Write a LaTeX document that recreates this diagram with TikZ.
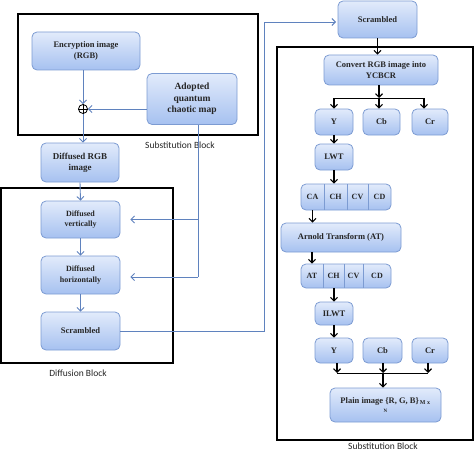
\documentclass[tikz,border=0pt]{standalone}
\usepackage{fontspec}
\setmainfont{Liberation Serif}
\newfontfamily\lblfont{Carlito}
\usetikzlibrary{arrows.meta,calc}
\definecolor{boxtop}{HTML}{E2EBFB}
\definecolor{boxbot}{HTML}{A6C1F0}
\definecolor{boxline}{HTML}{7C9BD2}
\definecolor{bluearr}{HTML}{5F82BE}
\tikzset{
  bx/.style={draw=boxline, line width=0.8pt, rounded corners=5pt, top color=boxtop, bottom color=boxbot,
    align=center, inner sep=1pt, text=black!85, font=\fontsize{8.5}{10.5}\selectfont\bfseries},
  cell/.style={inner sep=0pt, text=black!85, font=\fontsize{8}{10}\selectfont\bfseries},
  frm/.style={draw=black, line width=1.6pt},
  lbl/.style={font=\lblfont\fontsize{9.5}{11}\selectfont, inner sep=0pt, text=black!85},
  barr/.style={draw=bluearr, line width=0.9pt, -{Straight Barb[length=3.5pt,width=7pt]}},
  bln/.style={draw=bluearr, line width=0.9pt},
  karr/.style={draw=black, line width=1.1pt, -{Straight Barb[length=3.5pt,width=7pt]}},
  kln/.style={draw=black, line width=0.9pt},
}
\begin{document}
\begin{tikzpicture}[x=1pt,y=-1pt]
\useasboundingbox (0,0) rectangle (474,452);
% frames
\draw[frm] (18,14) rectangle (258,135);
\draw[frm] (1,188) rectangle (173,363);
\draw[frm] (277,47) rectangle (473,440);
\node[lbl] (lab1) at (180,145) {Substitution Block};
\node[lbl] (lab2) at (78,373) {Diffusion Block};
\node[lbl] (lab3) at (383,446) {Substitution Block};
% left nodes
\node[bx, minimum width=108pt, minimum height=38pt] (enc) at (86,51) {Encryption image\\(RGB)};
\node[bx, minimum width=90pt, minimum height=51pt, font=\fontsize{9.5}{11.5}\selectfont\bfseries] (map) at (192,99) {Adopted\\quantum\\chaotic map};
\node[circle, draw=black, line width=0.8pt, minimum size=9pt, inner sep=0pt] (xor) at (83,109) {};
\draw[black, line width=0.8pt] (xor.north) -- (xor.south) (xor.west) -- (xor.east);
\node[bx, minimum width=78pt, minimum height=39pt, font=\fontsize{9}{11}\selectfont\bfseries] (drgb) at (80,162.5) {Diffused RGB\\image};
\node[bx, minimum width=79pt, minimum height=37pt, font=\fontsize{8}{10.5}\selectfont\bfseries] (dv) at (80.5,219.5) {Diffused\\vertically};
\node[bx, minimum width=79pt, minimum height=38pt, font=\fontsize{8}{10.5}\selectfont\bfseries] (dh) at (80.5,275) {Diffused\\horizontally};
\node[bx, minimum width=79pt, minimum height=38pt] (scrL) at (80.5,331) {Scrambled};
% right nodes
\node[bx, minimum width=79pt, minimum height=37pt] (scrR) at (377.5,19.5) {Scrambled};
\node[bx, minimum width=114pt, minimum height=30pt] (conv) at (381,70) {Convert RGB image into\\YCBCR};
\node[bx, minimum width=38pt, minimum height=26pt] (y1) at (334,122) {Y};
\node[bx, minimum width=37pt, minimum height=26pt] (cb1) at (381.5,122) {Cb};
\node[bx, minimum width=36pt, minimum height=26pt] (cr1) at (430,122) {Cr};
\node[bx, minimum width=38pt, minimum height=26pt] (lwt) at (334,157) {LWT};
\node[bx, minimum width=90pt, minimum height=26pt] (row1) at (346,197) {};
\draw[boxline, line width=0.8pt] (324,184) -- (324,210) (347,184) -- (347,210) (368,184) -- (368,210);
\node[cell] (ca1) at (312.5,197) {CA};
\node[cell] (ch1) at (335.5,197) {CH};
\node[cell] (cv1) at (357.5,197) {CV};
\node[cell] (cd1) at (379.5,197) {CD};
\node[bx, minimum width=120pt, minimum height=29pt] (arnold) at (341,237.5) {Arnold Transform (AT)};
\node[bx, minimum width=90pt, minimum height=24pt] (row2) at (346,276) {};
\draw[boxline, line width=0.8pt] (323,264) -- (323,288) (344,264) -- (344,288) (363,264) -- (363,288);
\node[cell] (at2) at (312,276) {AT};
\node[cell] (ch2) at (333.5,276) {CH};
\node[cell] (cv2) at (353.5,276) {CV};
\node[cell] (cd2) at (377,276) {CD};
\node[bx, minimum width=38pt, minimum height=23pt] (ilwt) at (334,313.5) {ILWT};
\node[bx, minimum width=38pt, minimum height=25pt] (y2) at (334,350.5) {Y};
\node[bx, minimum width=39pt, minimum height=25pt] (cb2) at (382.5,350.5) {Cb};
\node[bx, minimum width=36pt, minimum height=25pt] (cr2) at (430,350.5) {Cr};
\node[bx, minimum width=111pt, minimum height=34pt] (plain) at (385.5,405) {Plain image \{R, G, B\}\textsubscript{\,M x}\\[-1pt]{\fontsize{5}{6}\selectfont N}};
% left connectors
\draw[barr] (enc.south -| xor) -- (xor.north);
\draw[barr] (map.west |- xor) -- (xor.east);
\draw[barr] (xor.south) -- (xor |- drgb.north);
\draw[barr] (drgb.south) -- (dv.north);
\draw[barr] (dv.south) -- (dh.north);
\draw[barr] (dh.south) -- (scrL.north);
\coordinate (bus) at (198,277);
\draw[bln] (bus |- map.south) -- (bus);
\draw[barr] (bus) -- ([xshift=10pt]dh.east |- bus);
\draw[barr] (bus |- dv.east) -- ([xshift=10pt]dv.east);
\coordinate (turn) at (264,331);
\draw[barr] (scrL.east) -- (scrL.east -| turn) -- (turn |- 0,22) -- (336,22);
% right connectors
\draw[karr] (scrR.south) -- (scrR.south |- conv.north);
\coordinate (s1) at (334,98);
\coordinate (s2) at (379,98);
\coordinate (s3) at (424,98);
\draw[karr] (conv.south -| s2) -- (s2);
\draw[kln] (s1) -- (s3);
\draw[karr] (s1) -- (s1 |- y1.north);
\draw[karr] (s2) -- (s2 |- cb1.north);
\draw[karr] (s3) -- (s3 |- cr1.north);
\draw[karr] (y1.south) -- (lwt.north);
\draw[karr] (lwt.south) -- (lwt.south |- row1.north);
\draw[karr] (ca1 |- row1.south) -- (ca1 |- arnold.north);
\draw[karr] (at2 |- arnold.south) -- (at2 |- row2.north);
\draw[karr] (ilwt.north |- row2.south) -- (ilwt.north);
\draw[karr] (ilwt.south) -- (y2.north);
\coordinate (m1) at (337,373);
\coordinate (m2) at (383,373);
\coordinate (m3) at (428,373);
\draw[kln] (m1) -- (m3);
\draw[karr] (m1 |- y2.south) -- (m1);
\draw[karr] (m2 |- cb2.south) -- (m2);
\draw[karr] (m3 |- cr2.south) -- (m3);
\draw[karr] (m2) -- (m2 |- plain.north);
\end{tikzpicture}
\end{document}
